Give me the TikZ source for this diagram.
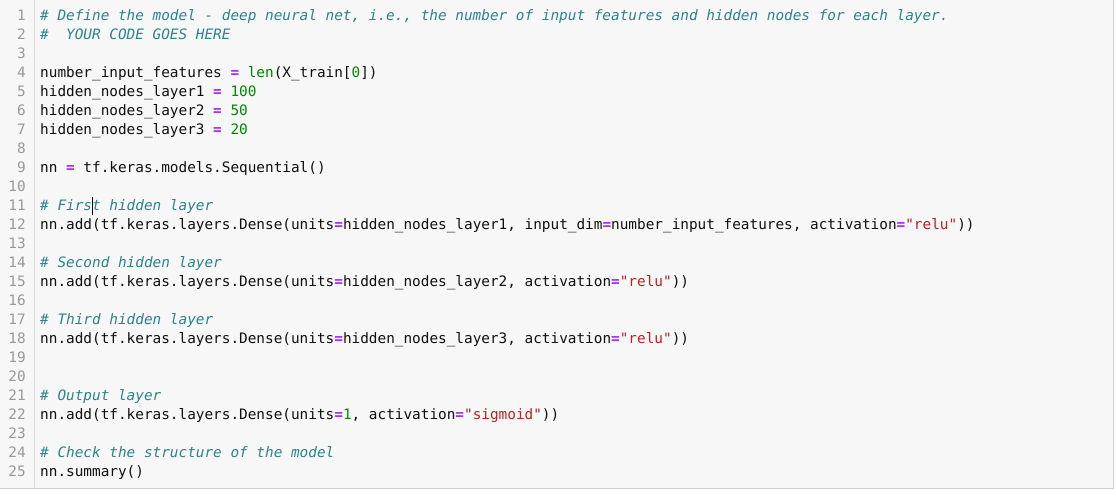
\documentclass[tikz,border=0pt]{standalone}
\usepackage{fontspec}
\newfontfamily\codefont{DejaVu Sans Mono}
\definecolor{bgc}{HTML}{F7F7F7}
\definecolor{bordc}{HTML}{CFCFCF}
\definecolor{gutc}{HTML}{DDDDDD}
\definecolor{lnc}{HTML}{999999}
\definecolor{cmtc}{HTML}{2A8489}
\definecolor{opc}{HTML}{AA22FF}
\definecolor{numc}{HTML}{008800}
\definecolor{bltc}{HTML}{008000}
\definecolor{strc}{HTML}{BA2121}
\definecolor{txtc}{HTML}{101010}
\newcommand\cmtx[1]{\textcolor{cmtc}{\itshape #1}}
\newcommand\opx{\textcolor{opc}{\bfseries =}}
\newcommand\numx[1]{\textcolor{numc}{#1}}
\newcommand\bltx[1]{\textcolor{bltc}{#1}}
\newcommand\strx[1]{\textcolor{strc}{#1}}
\tikzset{
  codeline/.style={anchor=base west, inner sep=0pt, font=\codefont\fontsize{14.37pt}{17pt}\selectfont, text=txtc},
  lnum/.style={anchor=base east, inner sep=0pt, font=\codefont\fontsize{14.37pt}{17pt}\selectfont, text=lnc},
}
\begin{document}
\begin{tikzpicture}[x=1pt,y=-1pt]
\useasboundingbox (0,0) rectangle (1116,496);
\fill[white] (0,0) rectangle (1116,496);
\fill[bgc] (0,0) rectangle (1113.5,488.5);
\draw[bordc, line width=1pt] (1113.5,0) -- (1113.5,488.5) -- (0,488.5);
\draw[gutc, line width=1pt] (34,0) -- (34,488);
\foreach \i in {1,...,25} {
  \node[lnum] (n\i) at (26,{20+(\i-1)*19}) {\i};
}
\node[codeline] (l1) at (40,20) {\cmtx{\#~Define~the~model~-~deep~neural~net,~i.e.,~the~number~of~input~features~and~hidden~nodes~for~each~layer.}};
\node[codeline] (l2) at (40,39) {\cmtx{\#~~YOUR~CODE~GOES~HERE}};
\node[codeline] (l4) at (40,77) {number\_input\_features~\opx~\bltx{len}(X\_train[\numx{0}])};
\node[codeline] (l5) at (40,96) {hidden\_nodes\_layer1~\opx~\numx{100}};
\node[codeline] (l6) at (40,115) {hidden\_nodes\_layer2~\opx~\numx{50}};
\node[codeline] (l7) at (40,134) {hidden\_nodes\_layer3~\opx~\numx{20}};
\node[codeline] (l9) at (40,172) {nn~\opx~tf.keras.models.Sequential()};
\node[codeline] (l11) at (40,210) {\cmtx{\#~First~hidden~layer}};
\node[codeline] (l12) at (40,229) {nn.add(tf.keras.layers.Dense(units\opx hidden\_nodes\_layer1,~input\_dim\opx number\_input\_features,~activation\opx\strx{"relu"}))};
\node[codeline] (l14) at (40,267) {\cmtx{\#~Second~hidden~layer}};
\node[codeline] (l15) at (40,286) {nn.add(tf.keras.layers.Dense(units\opx hidden\_nodes\_layer2,~activation\opx\strx{"relu"}))};
\node[codeline] (l17) at (40,324) {\cmtx{\#~Third~hidden~layer}};
\node[codeline] (l18) at (40,343) {nn.add(tf.keras.layers.Dense(units\opx hidden\_nodes\_layer3,~activation\opx\strx{"relu"}))};
\node[codeline] (l21) at (40,400) {\cmtx{\#~Output~layer}};
\node[codeline] (l22) at (40,419) {nn.add(tf.keras.layers.Dense(units\opx\numx{1},~activation\opx\strx{"sigmoid"}))};
\node[codeline] (l24) at (40,457) {\cmtx{\#~Check~the~structure~of~the~model}};
\node[codeline] (l25) at (40,476) {nn.summary()};
% text cursor
\draw[black, line width=0.8pt] (92.3,197) -- (92.3,215);
\end{tikzpicture}
\end{document}
